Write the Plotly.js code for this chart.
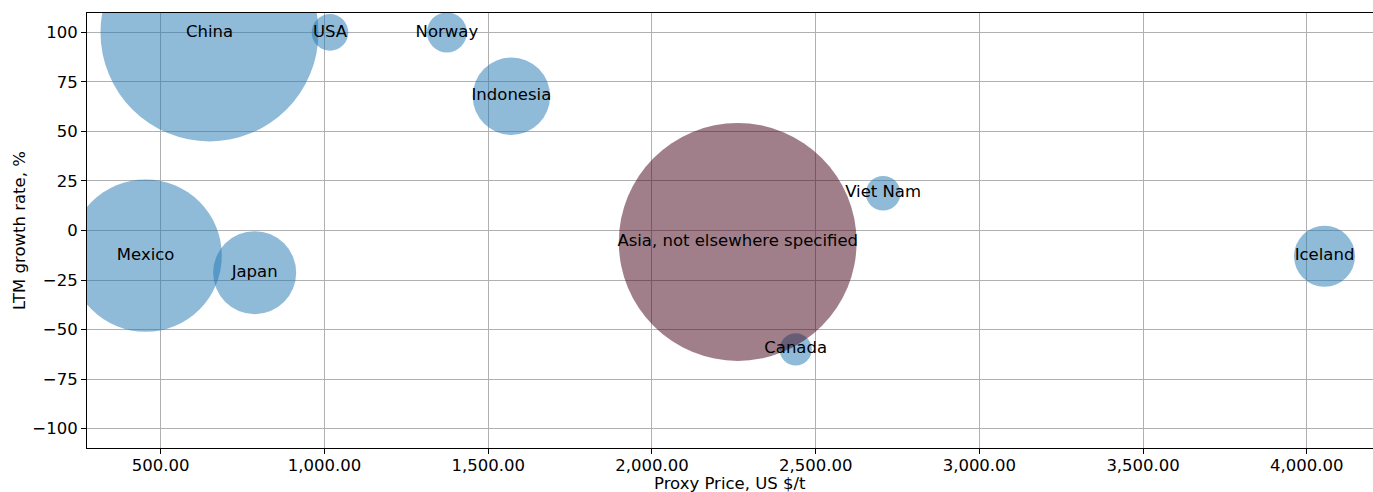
<!DOCTYPE html>
<html>
<head>
<meta charset="utf-8">
<script src="https://cdn.plot.ly/plotly-3.0.1.min.js"></script>
<style>html,body{margin:0;padding:0;background:#fff;}#chart{width:1373px;height:492px;}</style>
</head>
<body>
<div id="chart"></div>
<script>
// Data
const countries = ['China', 'USA', 'Norway', 'Indonesia', 'Viet Nam', 'Canada', 'Iceland', 'Mexico', 'Japan', 'Asia, not elsewhere specified'];
const proxyPrice = [649, 1017, 1374, 1571, 2706, 2439, 4054, 454, 787, 2262];
const growthRate = [100, 100, 100, 67.8, 18.8, -60.0, -13.0, -12.7, -21.3, -5.8];
const bubbleSize = [11881, 335, 400, 1498, 300, 262, 930, 5806, 1722, 14137];
const highlighted = ['Asia, not elsewhere specified'];
const xTickValues = [500, 1000, 1500, 2000, 2500, 3000, 3500, 4000];
const yTickValues = [-100, -75, -50, -25, 0, 25, 50, 75, 100];
const xTitle = 'Proxy Price, US $/t';
const yTitle = 'LTM growth rate, %';

const BLUE = 'rgba(31,119,180,0.5)';
const MAROON = 'rgba(65,0,21,0.5)';
const colors = countries.map(c => highlighted.includes(c) ? MAROON : BLUE);

const FONT = 'DejaVu Sans, sans-serif';
const TXT = {family: FONT, size: 16.5, color: '#000'};

const trace = {
  type: 'scatter',
  mode: 'markers+text',
  x: proxyPrice,
  y: growthRate,
  text: countries,
  textposition: 'middle center',
  textfont: TXT,
  marker: {
    size: bubbleSize,
    sizemode: 'area',
    sizeref: 0.5,
    opacity: 1,
    color: colors,
    line: {width: 0}
  },
  hoverinfo: 'text',
  cliponaxis: true,
  showlegend: false
};

const layout = {
  width: 1373,
  height: 492,
  margin: {l: 87, r: 0, t: 13, b: 44, pad: 0},
  paper_bgcolor: '#fff',
  plot_bgcolor: '#fff',
  font: TXT,
  xaxis: {
    range: [275, 4202],
    tickvals: xTickValues,
    tickformat: ',.2f',
    ticks: 'outside', ticklen: 5, tickwidth: 1, tickcolor: '#000',
    ticklabelstandoff: -3,
    showline: true, linecolor: '#000', linewidth: 1, mirror: true,
    showgrid: true, gridcolor: '#b0b0b0', gridwidth: 1,
    zeroline: false,
    tickfont: TXT
  },
  yaxis: {
    range: [-109.8, 109.8],
    tickvals: yTickValues,
    ticks: 'outside', ticklen: 5, tickwidth: 1, tickcolor: '#000',
    showline: true, linecolor: '#000', linewidth: 1, mirror: true,
    showgrid: true, gridcolor: '#b0b0b0', gridwidth: 1,
    zeroline: false,
    tickfont: TXT,
    title: {text: yTitle, font: TXT, standoff: 2}
  },
  annotations: [{
    text: xTitle,
    xref: 'paper', yref: 'paper',
    x: 0.5, y: 0,
    xanchor: 'center', yanchor: 'middle',
    yshift: -35,
    showarrow: false,
    font: TXT
  }]
};

Plotly.newPlot('chart', [trace], layout, {displayModeBar: false, staticPlot: true});
</script>
</body>
</html>
